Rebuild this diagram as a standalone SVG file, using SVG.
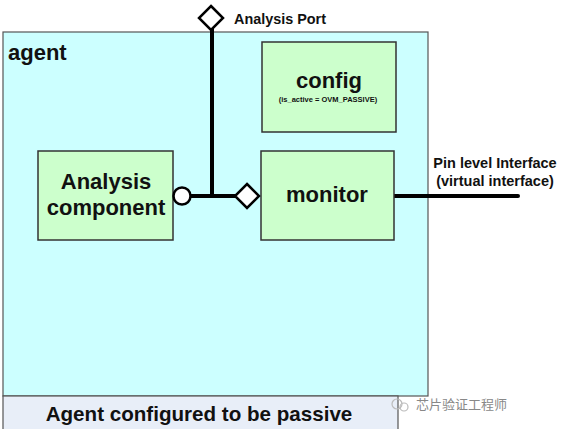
<svg xmlns="http://www.w3.org/2000/svg" width="564" height="429" viewBox="0 0 564 429">
<style>
.box{fill:#ccffcc;stroke:#333;stroke-width:1.5}
.t{font-family:"Liberation Sans",Arial,sans-serif;font-weight:bold;fill:#111}
.wire{stroke:#000;stroke-width:4;fill:none}
.port{fill:#fff;stroke:#000;stroke-width:2.5}
</style>
<rect width="564" height="429" fill="#fff"/>
<g id="agent">
<rect x="3" y="32" width="425" height="364" fill="#ccffff" stroke="#555" stroke-width="1.2"/>
<text class="t" x="8" y="60" font-size="22">agent</text>
</g>
<g id="caption">
<rect x="3" y="396" width="395" height="36" fill="#e8eef8" stroke="#555" stroke-width="1.2"/>
<text class="t" x="199" y="421" font-size="20.6" text-anchor="middle">Agent configured to be passive</text>
</g>
<g id="connectors">
<line class="wire" x1="212" y1="28" x2="212" y2="196"/>
<line class="wire" x1="190" y1="196" x2="236" y2="196"/>
<line class="wire" x1="394" y1="196" x2="518" y2="196" stroke-linecap="round"/>
</g>
<g id="config">
<rect class="box" x="262" y="42" width="134" height="90"/>
<text class="t" x="329" y="88" font-size="22" text-anchor="middle">config</text>
<text class="t" x="328" y="102" font-size="7.5" text-anchor="middle">(is_active = OVM_PASSIVE)</text>
</g>
<g id="analysis-component">
<rect class="box" x="38" y="151" width="135" height="89"/>
<text class="t" x="106" y="189" font-size="22" text-anchor="middle">Analysis</text>
<text class="t" x="106" y="215" font-size="22" text-anchor="middle">component</text>
<circle class="port" cx="182" cy="196" r="8.5"/>
</g>
<g id="monitor">
<rect class="box" x="261" y="151" width="133" height="89"/>
<text class="t" x="327" y="202" font-size="22" text-anchor="middle">monitor</text>
<polygon class="port" points="247,184 259,196 247,208 235,196"/>
</g>
<g id="analysis-port">
<polygon class="port" points="211,6 223,18 211,30 199,18"/>
<text class="t" x="234" y="24" font-size="14.4">Analysis Port</text>
</g>
<g id="pin-interface">
<text class="t" x="495" y="168" font-size="14.5" text-anchor="middle">Pin level Interface</text>
<text class="t" x="495" y="186" font-size="14.5" text-anchor="middle">(virtual interface)</text>
</g>
<g id="watermark">
<circle cx="397" cy="404" r="5" fill="none" stroke="#bbb" stroke-width="1.2"/>
<circle cx="404" cy="407" r="4" fill="none" stroke="#bbb" stroke-width="1.2"/>
<text x="416" y="409" font-size="13" fill="#888" font-family="'Noto Sans CJK SC',sans-serif">芯片验证工程师</text>
</g>
</svg>
